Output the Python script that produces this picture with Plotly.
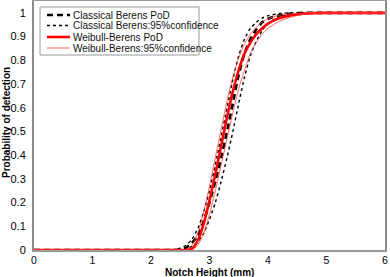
import plotly.graph_objects as go

# Notch height (mm) sample positions
notch = [0, 2.0, 2.4, 2.5, 2.6, 2.7, 2.8, 2.9, 3.0, 3.1, 3.2, 3.3, 3.4, 3.5, 3.6,
         3.7, 3.8, 3.9, 4.0, 4.2, 4.4, 4.6, 4.8, 5.0, 6.0]

classical_pod = [0, 0, 0.0, 0.002, 0.01, 0.03, 0.06, 0.12, 0.20, 0.29, 0.39, 0.50,
                 0.62, 0.74, 0.83, 0.89, 0.93, 0.96, 0.975, 0.99, 0.997, 1.0, 1.0, 1.0, 1.0]
classical_upper = [0, 0, 0.002, 0.008, 0.02, 0.045, 0.09, 0.16, 0.25, 0.36, 0.48, 0.60,
                   0.72, 0.82, 0.89, 0.935, 0.96, 0.978, 0.988, 0.997, 1.0, 1.0, 1.0, 1.0, 1.0]
classical_lower = [0, 0, 0.0, 0.0, 0.004, 0.015, 0.035, 0.07, 0.13, 0.20, 0.29, 0.39,
                   0.50, 0.62, 0.73, 0.82, 0.88, 0.925, 0.955, 0.983, 0.994, 0.998, 1.0, 1.0, 1.0]

weibull_pod = [0, 0, 0.0, 0.0, 0.0, 0.005, 0.04, 0.11, 0.21, 0.32, 0.44, 0.56,
               0.67, 0.76, 0.83, 0.875, 0.91, 0.935, 0.955, 0.978, 0.99, 0.996, 0.999, 1.0, 1.0]
weibull_upper = [0, 0, 0.0, 0.0, 0.0, 0.02, 0.07, 0.16, 0.27, 0.39, 0.51, 0.63,
                 0.73, 0.81, 0.87, 0.91, 0.94, 0.96, 0.975, 0.99, 0.996, 0.999, 1.0, 1.0, 1.0]
weibull_lower = [0, 0, 0.0, 0.0, 0.0, 0.0, 0.02, 0.07, 0.15, 0.25, 0.36, 0.47,
                 0.58, 0.68, 0.76, 0.83, 0.875, 0.91, 0.935, 0.965, 0.983, 0.993, 0.998, 1.0, 1.0]

series_names = ["Classical Berens PoD", "Classical Berens:95%confidence",
                "Weibull-Berens PoD", "Weibull-Berens:95%confidence"]

x_ticks = [0, 1, 2, 3, 4, 5, 6]
y_ticks = [0, 0.1, 0.2, 0.3, 0.4, 0.5, 0.6, 0.7, 0.8, 0.9, 1]
y_tick_labels = ["0", "0.1", "0.2", "0.3", "0.4", "0.5", "0.6", "0.7", "0.8", "0.9", "1"]

FONT = "Liberation Sans, Arial, sans-serif"
W, H = 390, 277
ML, MR, MT, MB = 34, 5, 1, 27
PW, PH = W - ML - MR, H - MT - MB

def px(x):
    return (x - ML) / PW

def py(y):
    return (H - MB - y) / PH

styles = [
    dict(color="black", width=2.6, dash="6px,4px"),
    dict(color="black", width=1.4, dash="3px,3px"),
    dict(color="#ff0000", width=2.6, dash="solid"),
    dict(color="rgba(255,60,60,0.8)", width=1, dash="solid"),
]

def pair(a, b):
    return notch + [None] + notch, a + [None] + b

fig = go.Figure()
cx, cy = pair(classical_upper, classical_lower)
wx, wy = pair(weibull_upper, weibull_lower)
data = [(notch, classical_pod), (cx, cy), (notch, weibull_pod), (wx, wy)]
for (xs, ys), name, st in zip(data, series_names, styles):
    fig.add_trace(go.Scatter(x=xs, y=ys, mode="lines", name=name, showlegend=False,
                             line=dict(color=st["color"], width=st["width"], dash=st["dash"],
                                       shape="spline", smoothing=0.6)))

# compact legend box (drawn in paper coordinates)
shapes = [dict(type="rect", xref="paper", yref="paper", x0=px(40), x1=px(199), y0=py(55), y1=py(7),
               fillcolor="white", line=dict(color="#9a9a9a", width=1), layer="above")]
annotations = []
rows = [15, 25.5, 37, 48]
for name, st, ry in zip(series_names, styles, rows):
    shapes.append(dict(type="line", xref="paper", yref="paper", x0=px(47), x1=px(70),
                       y0=py(ry), y1=py(ry), layer="above",
                       line=dict(color=st["color"], width=st["width"] if st["width"] > 1.2 else 1,
                                 dash=st["dash"])))
    annotations.append(dict(xref="paper", yref="paper", x=px(71), y=py(ry), text=name,
                            showarrow=False, xanchor="left", yanchor="middle",
                            font=dict(size=10, family=FONT, color="#111")))

annotations.append(dict(xref="paper", yref="paper", x=px(209), y=py(272.5), text="<b>Notch Height (mm)</b>",
                        showarrow=False, xanchor="center", yanchor="middle",
                        font=dict(size=10, family=FONT, color="black")))
annotations.append(dict(xref="paper", yref="paper", x=px(6), y=py(123), text="<b>Probability of detection</b>",
                        showarrow=False, xanchor="center", yanchor="middle", textangle=-90,
                        font=dict(size=10, family=FONT, color="black")))

fig.update_layout(
    width=W, height=H,
    margin=dict(l=ML, r=MR, t=MT, b=MB, autoexpand=False),
    paper_bgcolor="white", plot_bgcolor="white",
    font=dict(family=FONT, size=11, color="black"),
    showlegend=False,
    shapes=shapes, annotations=annotations,
    xaxis=dict(range=[0, 6], tickvals=x_ticks, ticks="", showgrid=False, zeroline=False,
               showline=True, linecolor="#999999", linewidth=1.5, mirror=True,
               automargin=False, ticklabelstandoff=0, tickfont=dict(size=10.5)),
    yaxis=dict(range=[0, 1.05], tickvals=y_ticks, ticktext=y_tick_labels, ticks="",
               showgrid=False, zeroline=False,
               showline=True, linecolor="#8c8c8c", linewidth=2, mirror=True,
               automargin=False, ticklabelstandoff=4, tickfont=dict(size=11)),
)

fig.write_html("out.html", config={"displayModeBar": False},
               post_script="document.body.style.margin='0';document.body.style.overflow='hidden';")
